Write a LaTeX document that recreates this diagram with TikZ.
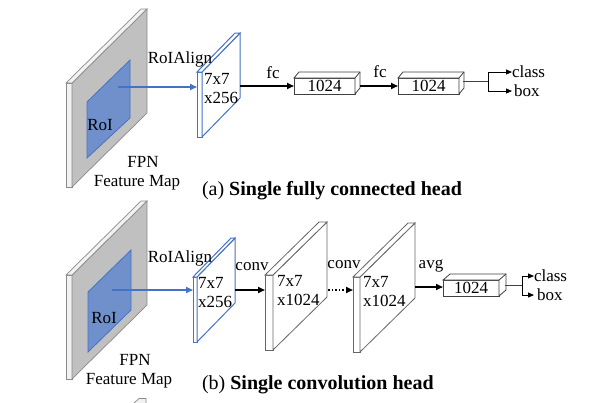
\documentclass[tikz,border=0pt]{standalone}
\usepackage{fontspec}
\setmainfont{Liberation Serif}
\usetikzlibrary{arrows.meta,calc}
\definecolor{roiblue}{HTML}{4472C4}
\definecolor{roifill}{HTML}{7090CC}
\definecolor{slabgray}{HTML}{C0C0C0}
\definecolor{slabedge}{HTML}{8A8A8A}
\definecolor{lightface}{HTML}{F2F2F2}
\definecolor{boxedge}{HTML}{404040}
\newcommand\myslab[9]{%
  \node[#8, minimum width=#4, minimum height=#5] (#1) at (#2,#3) {};
  \draw[#8, fill=#9] (#1.north east) -- ++(#6,#7) -- ++(0,#5) -- (#1.south east) -- cycle;
  \draw[#8] (#1.north west) -- ++(#6,#7) -- ++(#4,0) -- (#1.north east) -- cycle;
}
\newcommand\mybox[6]{%
  \node[fcbox, minimum width=#4, minimum height=16] (#1) at (#2,#3) {1024};
  \draw[boxedge, line width=0.8pt, fill=white] (#1.north west) -- ++(#5,#6) -- ++(#4,0) -- ++(0,16) -- (#1.south east) -- (#1.north east) -- cycle;
  \draw[boxedge, line width=0.8pt] (#1.north east) -- ++(#5,#6);
}
\begin{document}
\begin{tikzpicture}[x=1pt,y=-1pt,
  every node/.style={inner sep=0pt, outer sep=0pt, font=\fontsize{17}{19}\selectfont},
  capfont/.style={font=\fontsize{20}{22}\selectfont},
  grayslab/.style={draw=slabedge, fill=lightface, line width=0.7pt},
  blueslab/.style={draw=roiblue, fill=white, line width=1pt},
  convslab/.style={draw=boxedge!80, fill=white, line width=0.8pt},
  fcbox/.style={draw=boxedge, fill=white, line width=0.8pt},
  roi/.style={draw=roiblue, fill=roifill, line width=0.8pt},
  bluearrow/.style={draw=roiblue, line width=1.6pt, -{Triangle[length=7pt,width=6pt]}},
  blk/.style={draw=black, line width=1.6pt, -{Triangle[length=7pt,width=6pt]}},
  fork/.style={draw=boxedge, line width=0.9pt},
  forkarrow/.style={draw=black, line width=0.9pt, -{Triangle[length=6pt,width=5pt]}}]
\useasboundingbox (0,0) rectangle (594,402);

% ---------- panel (a) ----------
\myslab{gA}{69}{135}{6}{104}{75}{-74}{grayslab}{slabgray}
\draw[roi] (87,102) -- (130,60) -- (130,118) -- (87,158) -- cycle;
\myslab{bA}{199.5}{104.5}{5}{65}{38}{-39}{blueslab}{white}
\node (roiA) at (100,125) {RoI};
\coordinate (roiptA) at (118,87);
\draw[bluearrow] (roiptA) -- (roiptA -| bA.west);
\node (alignA) at (180,59) {RoIAlign};
\node[anchor=west] (sA1) at (204,79) {7x7};
\node[anchor=west] (sA2) at (204,98) {x256};
\node (fpnA) at (143,162) {FPN};
\node (fmA) at (137,183) {Feature Map};

\mybox{b1}{324.5}{86}{61}{5}{-6}
\mybox{b2}{428.5}{86}{61}{5}{-6}
\coordinate (bAout) at (240,86);
\draw[blk] (bAout) -- (bAout -| b1.west);
\node (fc1) at (273,73) {fc};
\draw[blk] ([xshift=5pt]b1.east) -- (b2.west);
\node (fc2) at (380,72) {fc};
\coordinate (fA) at (488,81);
\node[anchor=west] (clsA) at (512,72) {class};
\node[anchor=west] (boxA) at (514,91) {box};
\draw[fork] ([xshift=4pt,yshift=5pt]b2.east) -- (fA);
\draw[forkarrow] (fA) |- (clsA.west);
\draw[forkarrow] (fA) |- (boxA.west -| clsA.west);
\node[anchor=west, capfont] (capA) at (202,191) {(a) \textbf{Single fully connected head}};

% ---------- panel (b) ----------
\myslab{gB}{69}{327}{6}{104}{75}{-74}{grayslab}{slabgray}
\draw[roi] (88,292) -- (131,250) -- (131,310) -- (88,352) -- cycle;
\myslab{bB}{195}{309.5}{4}{65}{38}{-39}{blueslab}{white}
\node (roiB) at (104,318) {RoI};
\coordinate (roiptB) at (112,290);
\draw[bluearrow] (roiptB) -- (roiptB -| bB.west);
\node (alignB) at (180,258) {RoIAlign};
\node[anchor=west] (sB1) at (198,283) {7x7};
\node[anchor=west] (sB2) at (198,302) {x256};
\node (fpnB) at (135,360) {FPN};
\node (fmB) at (129,381) {Feature Map};

\myslab{c1}{269}{312.5}{8}{75}{54}{-53}{convslab}{white}
\myslab{c2}{356.5}{314.5}{7}{75}{55}{-54}{convslab}{white}
\node[anchor=west] (cA1) at (277,281) {7x7};
\node[anchor=west] (cA2) at (277,300) {x1024};
\node[anchor=west] (cB1) at (363,282) {7x7};
\node[anchor=west] (cB2) at (363,301) {x1024};
\coordinate (bBout) at (235,290);
\draw[blk] (bBout) -- (bBout -| c1.west);
\node (conv1) at (252,267) {conv};
\coordinate (c1out) at (328,290);
\draw[blk, dotted] (c1out) -- (c1out -| c2.west);
\node (conv2) at (344,265) {conv};

\mybox{b3}{471}{288}{56}{7}{-6}
\coordinate (c2out) at (415,287);
\draw[blk] (c2out) -- (c2out -| b3.west);
\node (avg) at (431,266) {avg};
\coordinate (fB) at (522,285);
\node[anchor=west] (clsB) at (534,276) {class};
\node[anchor=west] (boxB) at (537,295) {box};
\draw[fork] ([xshift=6pt,yshift=3pt]b3.east) -- (fB);
\draw[forkarrow] (fB) |- (clsB.west);
\draw[forkarrow] (fB) |- (boxB.west -| clsB.west);
\node[anchor=west, capfont] (capB) at (202,385) {(b) \textbf{Single convolution head}};

% fragment of next figure at bottom edge
\draw[slabedge, fill=lightface, line width=0.7pt] (134,403) -- (139,398.5) -- (146,398.5) -- (146,403);
\end{tikzpicture}
\end{document}
